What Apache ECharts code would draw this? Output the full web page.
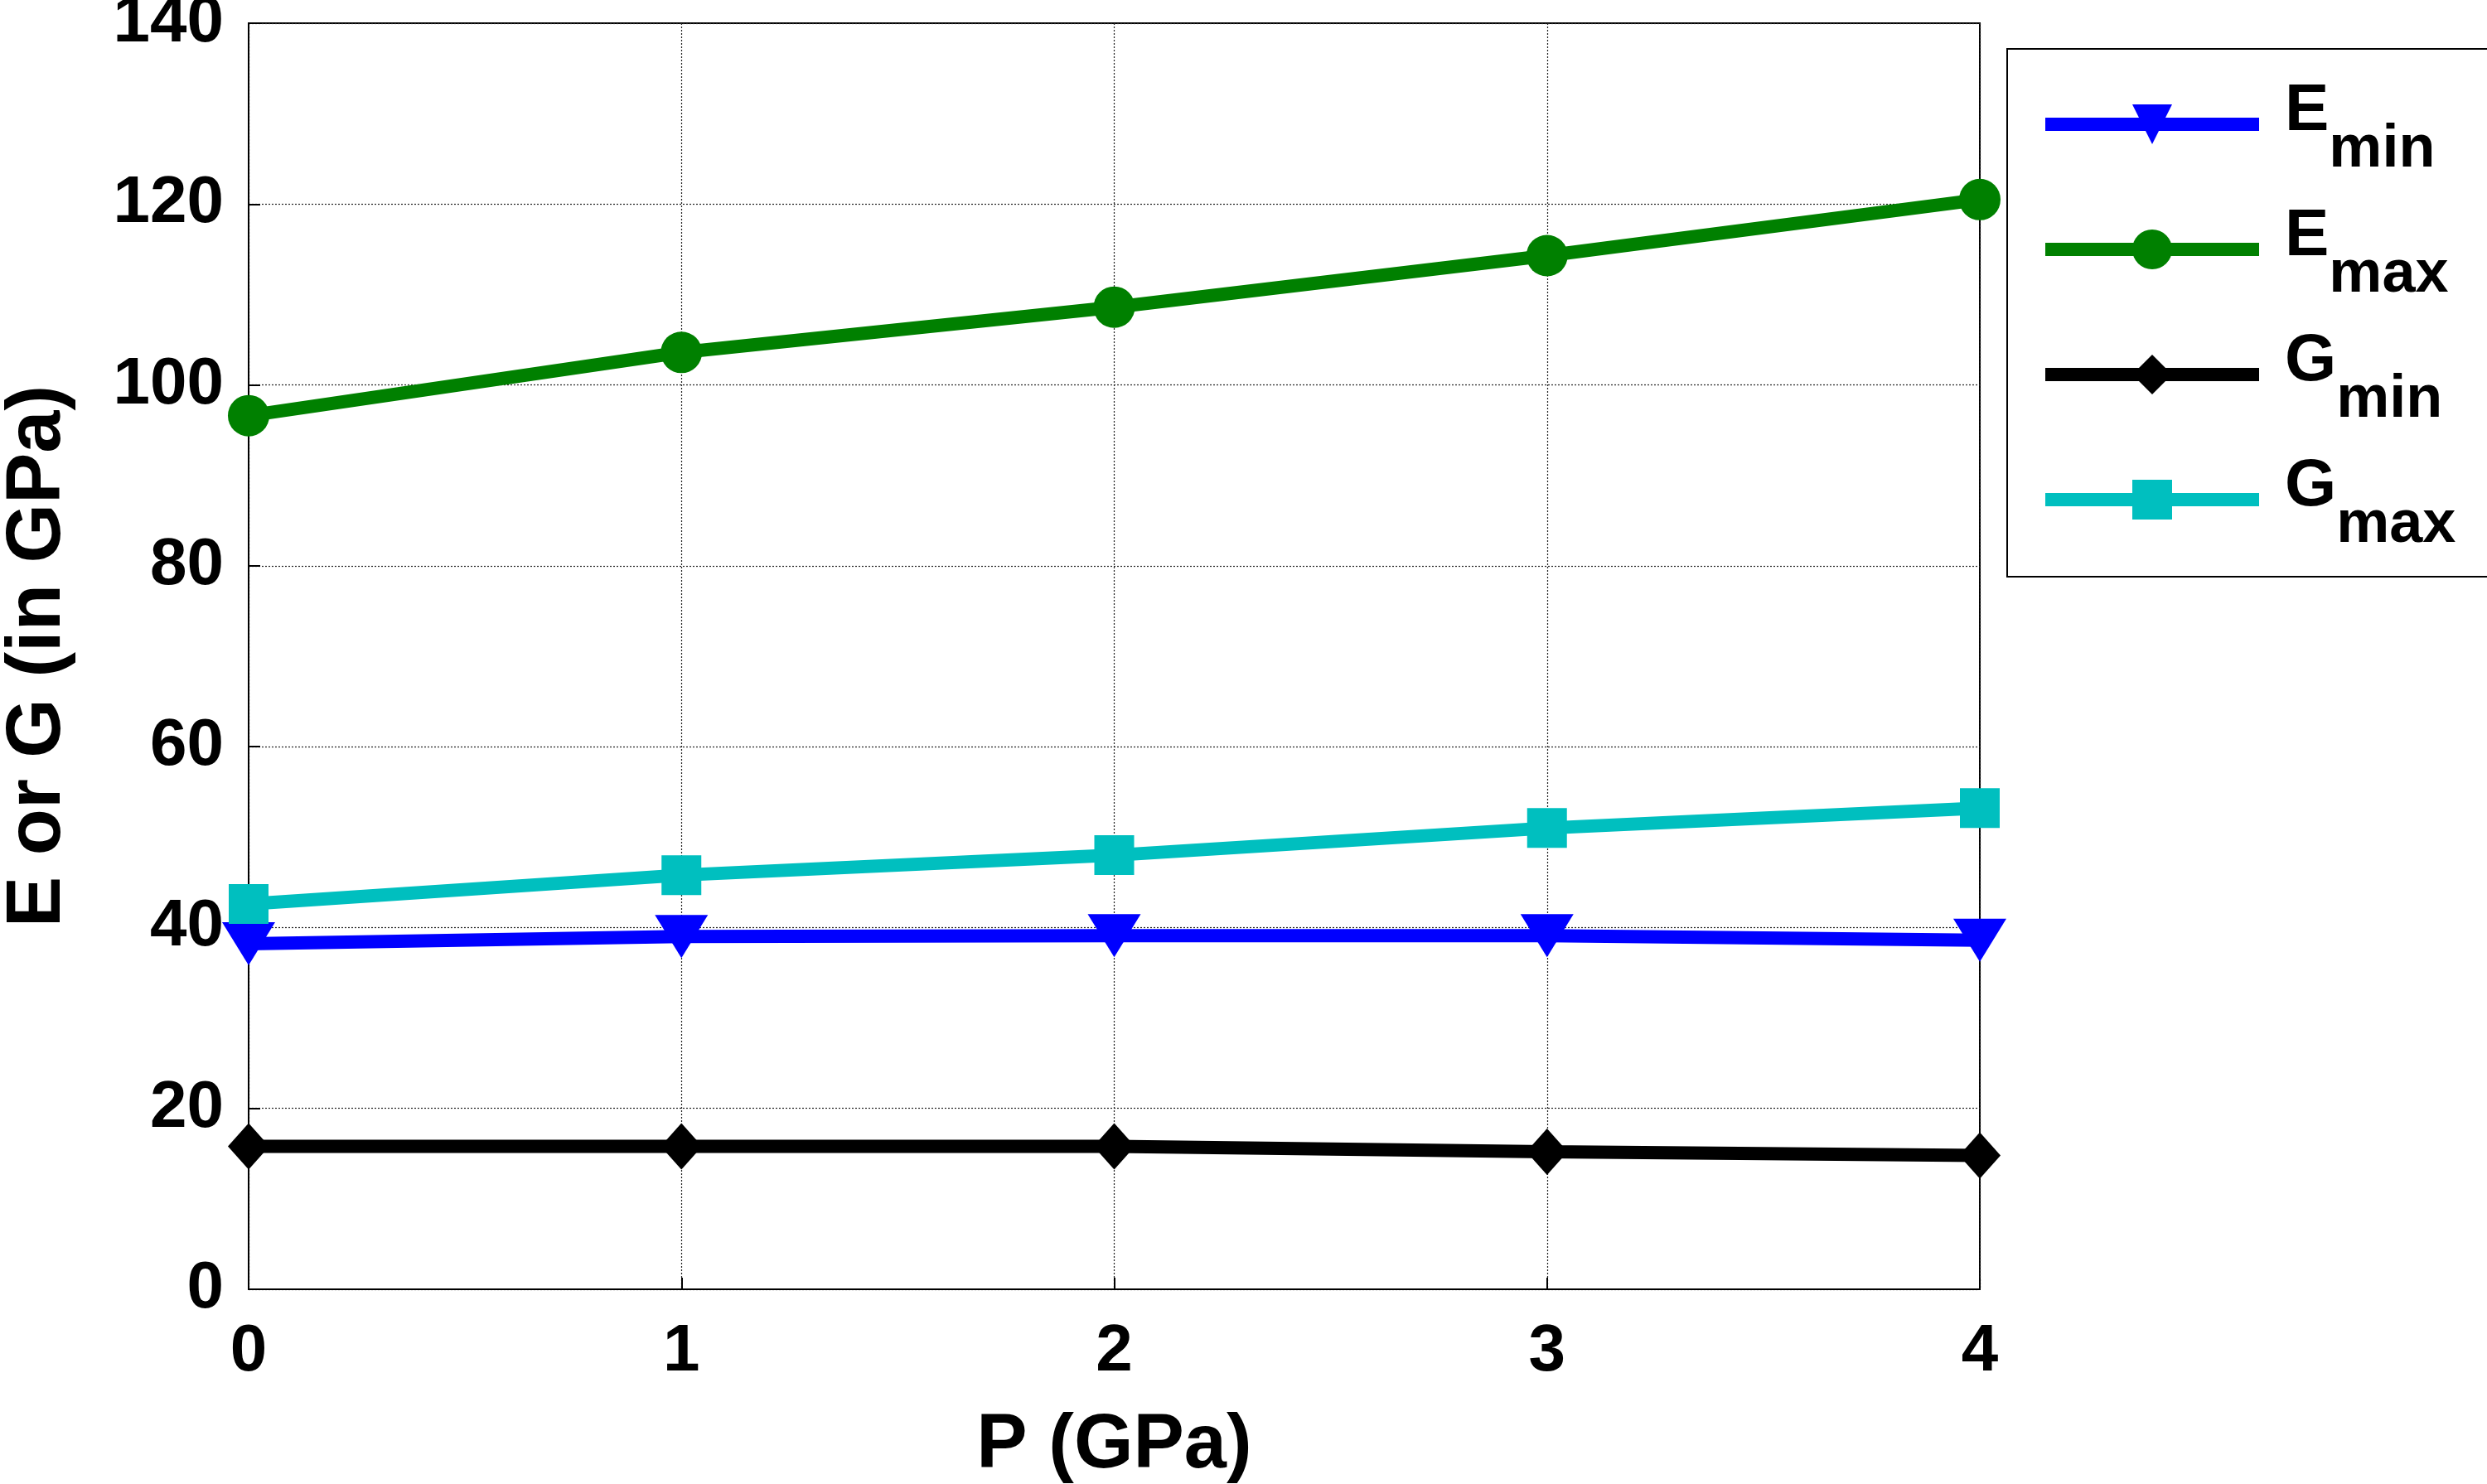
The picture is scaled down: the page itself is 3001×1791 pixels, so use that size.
<!DOCTYPE html>
<html>
<head>
<meta charset="utf-8">
<script src="https://cdn.jsdelivr.net/npm/echarts@6/dist/echarts.min.js"></script>
<style>
  html, body { margin: 0; padding: 0; background: #fff; }
  #chart { width: 3001px; height: 1791px; }
</style>
</head>
<body>
<div id="chart"></div>
<script>
// pressure values (x axis)
const pressure = [0, 1, 2, 3, 4]

// moduli in GPa
const eMin = [38.2, 39.0, 39.1, 39.1, 38.6]
const eMax = [96.6, 103.6, 108.6, 114.3, 120.5]
const gMin = [15.8, 15.8, 15.8, 15.2, 14.8]
const gMax = [42.6, 45.8, 48.0, 51.0, 53.2]

// legend labels: main letter + subscript
const seriesNames = ["Emin", "Emax", "Gmin", "Gmax"]
const seriesMain = ["E", "E", "G", "G"]
const seriesSub = ["min", "max", "min", "max"]

const font = "'Liberation Sans', Arial, Helvetica, sans-serif"

function toPairs(values) {
  return pressure.map((p, i) => [p, values[i]])
}

// 折线系列的公共样式
function makeSeries(name, values, color, symbol, size, rotate) {
  return {
    name: name,
    type: "line",
    data: toPairs(values),
    symbol: symbol,
    symbolSize: size,
    symbolRotate: rotate || 0,
    showAllSymbol: true,
    clip: false,
    lineStyle: { color: color, width: 16 },
    itemStyle: { color: color, borderWidth: 0 },
    emphasis: { disabled: true },
    animation: false
  }
}

const myChart = echarts.init(document.getElementById("chart"), null, { renderer: "canvas" })

const option = {
  backgroundColor: "#fff",
  animation: false,
  grid: {
    left: 300,
    right: 612,
    top: 28,
    bottom: 235,
    containLabel: false,
    outerBoundsMode: "none",
    show: true,
    borderColor: "#000",
    borderWidth: 2,
    backgroundColor: "#fff"
  },
  legend: {
    orient: "vertical",
    left: 2422,
    top: 59,
    padding: [24, 40, 26, 38],
    itemWidth: 258,
    itemHeight: 60,
    itemGap: 17,
    borderColor: "#000",
    borderWidth: 2,
    backgroundColor: "#fff",
    lineStyle: { width: 16 },
    data: seriesNames,
    formatter: function (name) {
      const i = seriesNames.indexOf(name)
      return "{b|" + seriesMain[i] + "}{s|" + seriesSub[i] + "}"
    },
    textStyle: {
      color: "#000",
      fontFamily: font,
      fontWeight: "bold",
      rich: {
        b: { fontSize: 80, fontWeight: "bold", fontFamily: font, color: "#000", lineHeight: 80, padding: [0, 0, 30, 26] },
        s: { fontSize: 72, fontWeight: "bold", fontFamily: font, color: "#000", lineHeight: 72, padding: [62, 0, 0, 0] }
      }
    }
  },
  xAxis: {
    type: "value",
    min: 0,
    max: 4,
    interval: 1,
    name: "P (GPa)",
    nameLocation: "middle",
    nameGap: 144,
    nameTextStyle: { fontSize: 92, fontWeight: "bold", fontFamily: font, color: "#000" },
    axisLine: { show: true, lineStyle: { color: "#000", width: 2 } },
    axisTick: { show: true, inside: true, length: 14, lineStyle: { color: "#000", width: 2 } },
    axisLabel: { fontSize: 80, fontWeight: "bold", fontFamily: font, color: "#000", margin: 36 },
    splitLine: { show: true, lineStyle: { color: "#222", type: [2, 2], width: 1.2 } }
  },
  yAxis: {
    type: "value",
    min: 0,
    max: 140,
    interval: 20,
    name: "E or G (in GPa)",
    nameLocation: "middle",
    nameGap: 207,
    nameRotate: 90,
    nameTextStyle: { fontSize: 92, fontWeight: "bold", fontFamily: font, color: "#000" },
    axisLine: { show: true, lineStyle: { color: "#000", width: 2 } },
    axisTick: { show: true, inside: true, length: 14, lineStyle: { color: "#000", width: 2 } },
    axisLabel: { fontSize: 80, fontWeight: "bold", fontFamily: font, color: "#000", margin: 30 },
    splitLine: { show: true, lineStyle: { color: "#222", type: [2, 2], width: 1.2 } }
  },
  series: [
    makeSeries("Emin", eMin, "#0000ff", "triangle", [64, 52], 180),
    makeSeries("Emax", eMax, "#008000", "circle", 50),
    makeSeries("Gmin", gMin, "#000000", "diamond", [50, 56]),
    makeSeries("Gmax", gMax, "#00bfbf", "rect", 48)
  ]
}

myChart.setOption(option)
</script>
</body>
</html>
